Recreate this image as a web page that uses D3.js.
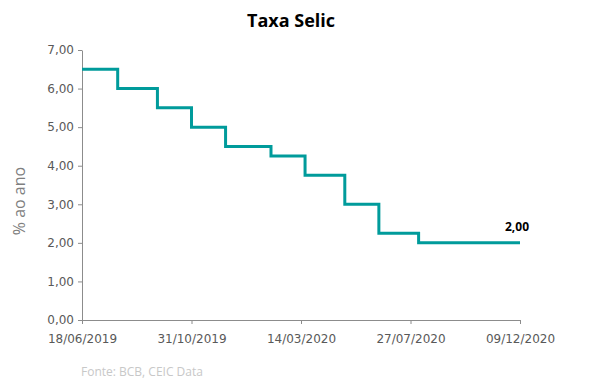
<!DOCTYPE html>
<html>
<head>
<meta charset="utf-8">
<script src="https://cdn.jsdelivr.net/npm/d3@7"></script>
<style>
  body { margin: 0; background: #fff; }
  .tick text { font-family: "DejaVu Sans", sans-serif; }
</style>
</head>
<body>
<div id="chart"></div>
<script>
// Selic target rate, date it took effect
var changeDates = ["2019-06-18", "2019-08-01", "2019-09-19", "2019-10-31", "2019-12-12",
                   "2020-02-06", "2020-03-19", "2020-05-07", "2020-06-18", "2020-08-06", "2020-12-09"];
var rates = [6.50, 6.00, 5.50, 5.00, 4.50, 4.25, 3.75, 3.00, 2.25, 2.00, 2.00];
var xTickLabels = ["2019-06-18", "2019-10-31", "2020-03-14", "2020-07-27", "2020-12-09"];
var yTicks = [0, 1, 2, 3, 4, 5, 6, 7];

var parse = d3.timeParse("%Y-%m-%d");
var fmtDate = d3.timeFormat("%d/%m/%Y");
var fmtNum = function (v) { return v.toFixed(2).replace(".", ","); };

var data = changeDates.map(function (d, i) {
    return { date: parse(d), value: rates[i] };
});

var width = 604, height = 386;
var margin = { top: 50, right: 84, bottom: 66, left: 82 };

var svg = d3.select("#chart")
    .append("svg")
    .attr("width", width)
    .attr("height", height);

var x = d3.scaleTime()
    .domain([parse(xTickLabels[0]), parse(xTickLabels[xTickLabels.length - 1])])
    .range([margin.left, width - margin.right]);

var y = d3.scaleLinear()
    .domain([0, 7])
    .range([height - margin.bottom, margin.top]);

// axes
var xAxis = svg.append("g")
    .attr("transform", "translate(0," + y(0) + ")")
    .call(d3.axisBottom(x)
        .tickValues(xTickLabels.map(parse))
        .tickFormat(fmtDate)
        .tickSizeInner(4)
        .tickSizeOuter(0));

var yAxis = svg.append("g")
    .attr("transform", "translate(" + margin.left + ",0)")
    .call(d3.axisLeft(y)
        .tickValues(yTicks)
        .tickFormat(fmtNum)
        .tickSizeInner(4)
        .tickSizeOuter(0));

[xAxis, yAxis].forEach(function (ax) {
    ax.select(".domain").attr("stroke", "#8c8c8c");
    ax.selectAll(".tick line").attr("stroke", "#8c8c8c");
    ax.selectAll(".tick text")
        .attr("fill", "#595959")
        .style("font-size", "12px");
});
xAxis.selectAll(".tick text").attr("dy", "1.3em");
yAxis.selectAll(".tick text").attr("x", -8);

// step line
var line = d3.line()
    .curve(d3.curveStepAfter)
    .x(function (d) { return x(d.date); })
    .y(function (d) { return y(d.value); });

svg.append("path")
    .datum(data)
    .attr("d", line)
    .attr("fill", "none")
    .attr("stroke", "#009b9b")
    .attr("stroke-width", 3);

// last value label
var last = data[data.length - 1];
svg.append("text")
    .attr("x", x(last.date) - 3)
    .attr("y", y(last.value) - 12)
    .attr("text-anchor", "middle")
    .style("font-family", "'Open Sans', sans-serif")
    .style("font-size", "12px")
    .style("font-weight", "bold")
    .attr("fill", "#000")
    .text(fmtNum(last.value));

// title
svg.append("text")
    .attr("x", 291)
    .attr("y", 27)
    .attr("text-anchor", "middle")
    .style("font-family", "'Open Sans', sans-serif")
    .style("font-size", "18px")
    .style("font-weight", "bold")
    .attr("fill", "#000")
    .text("Taxa Selic");

// y title
svg.append("text")
    .attr("transform", "translate(25,201) rotate(-90)")
    .attr("text-anchor", "middle")
    .style("font-family", "'Open Sans', sans-serif")
    .style("font-size", "16px")
    .attr("fill", "#7f7f7f")
    .text("% ao ano");

// source
svg.append("text")
    .attr("x", 81)
    .attr("y", 376)
    .style("font-family", "'Open Sans', sans-serif")
    .style("font-size", "12px")
    .attr("fill", "#c8c8c8")
    .text("Fonte: BCB, CEIC Data");
</script>
</body>
</html>
